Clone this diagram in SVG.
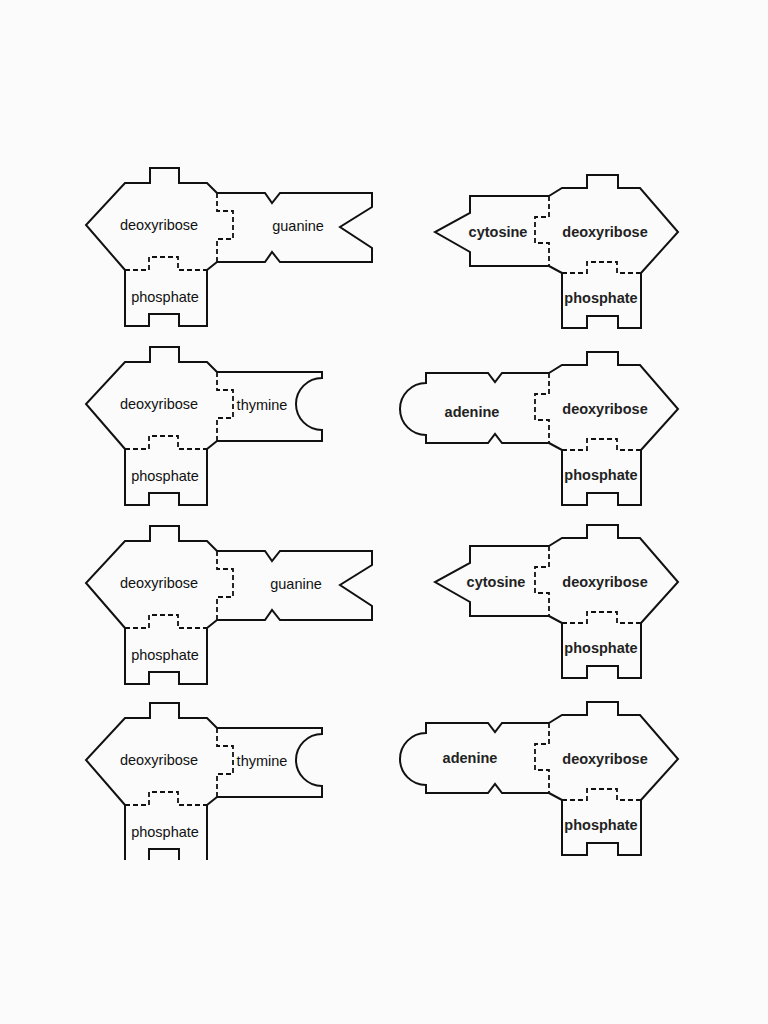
<svg xmlns="http://www.w3.org/2000/svg" width="768" height="1024" viewBox="0 0 768 1024">
<style>
.s{fill:none;stroke:#111;stroke-width:2;stroke-linejoin:miter}
.d{fill:none;stroke:#111;stroke-width:1.8;stroke-dasharray:5,3}
.tl{font-family:"Liberation Sans",Arial,sans-serif;font-size:14.5px;fill:#111;text-anchor:middle}
.tr{font-family:"Liberation Sans",Arial,sans-serif;font-size:14.5px;font-weight:bold;fill:#222;text-anchor:middle}
</style>
<defs>
<g id="L">
<path class="s" d="M125,270 L86,225 L125,183 L150,183 L150,168 L179,168 L179,183 L207,183 L217,193 M217,262 L207,270"/>
<path class="s" d="M125,270 L125,326 L149,326 L149,314 L179,314 L179,326 L207,326 L207,270"/>
<path class="d" d="M125,270 L149,270 L149,257 L178,257 L178,270 L207,270"/>
<path class="d" d="M217,193 L217,211 L233,211 L233,239 L217,239 L217,262"/>
<text class="tl" x="159" y="230">deoxyribose</text>
<text class="tl" x="165" y="302">phosphate</text>
</g>
<path id="G" class="s" d="M217,193 L265,193 L272,203 L280,193 L372,193 L372,207 L340,227 L372,248 L372,262 L280,262 L272,252 L265,262 L217,262"/>
<path id="T" class="s" d="M217,193 L322,193 L322,199 A26,26 0 0 0 322,251 L322,262 L217,262"/>
<g id="R">
<path class="s" d="M549,196 L562,188 L587,188 L587,175 L618,175 L618,188 L640,188 L678,232 L641,273 M562,273 L549,266"/>
<path class="s" d="M562,273 L562,328 L587,328 L587,316 L618,316 L618,328 L641,328 L641,273"/>
<path class="d" d="M562,273 L587,273 L587,262 L617,262 L617,273 L641,273"/>
<path class="d" d="M549,196 L549,217 L535,217 L535,243 L549,243 L549,266"/>
<text class="tr" x="605" y="237">deoxyribose</text>
<text class="tr" x="601" y="303">phosphate</text>
</g>
<path id="C" class="s" d="M549,196 L470,196 L470,213 L435,232 L470,252 L470,266 L549,266"/>
<path id="A" class="s" d="M549,196 L502,196 L495,205 L488,196 L426,196 L426,206 A26,26 0 0 0 426,258 L426,266 L488,266 L495,257 L502,266 L549,266"/>
<clipPath id="cut"><rect x="0" y="0" width="768" height="860"/></clipPath>
</defs>
<rect width="768" height="1024" fill="#fbfbfb"/>
<g id="left1"><use href="#L"/><use href="#G"/><text class="tl" x="298" y="231">guanine</text></g>
<g id="left2" transform="translate(0,179)"><use href="#L"/><use href="#T"/><text class="tl" x="262" y="231">thymine</text></g>
<g id="left3" transform="translate(0,358)"><use href="#L"/><use href="#G"/><text class="tl" x="296" y="231">guanine</text></g>
<g id="left4" clip-path="url(#cut)"><g transform="translate(0,535)"><use href="#L"/><use href="#T"/><text class="tl" x="262" y="231">thymine</text></g></g>
<g id="right1"><use href="#R"/><use href="#C"/><text class="tr" x="498" y="237">cytosine</text></g>
<g id="right2" transform="translate(0,177)"><use href="#R"/><use href="#A"/><text class="tr" x="472" y="240">adenine</text></g>
<g id="right3" transform="translate(0,350)"><use href="#R"/><use href="#C"/><text class="tr" x="496" y="237">cytosine</text></g>
<g id="right4" transform="translate(0,527)"><use href="#R"/><use href="#A"/><text class="tr" x="470" y="236">adenine</text></g>
<g id="connectors"/>
</svg>
